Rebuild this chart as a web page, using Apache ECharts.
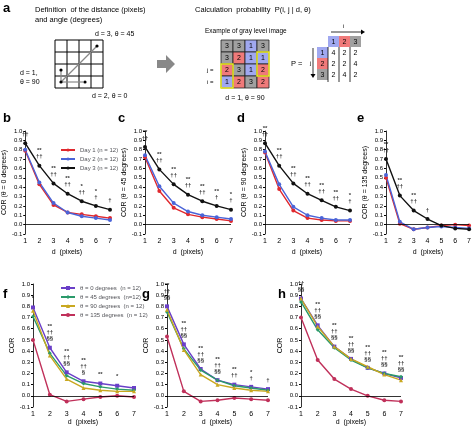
<!DOCTYPE html>
<html><head><meta charset="utf-8">
<script src="https://cdn.jsdelivr.net/npm/echarts@6/dist/echarts.min.js"></script>
<style>html,body{margin:0;background:#fff}#c{width:474px;height:427px}</style>
</head><body><div id="c"></div>
<script>
var dist = ['1', '2', '3', '4', '5', '6', '7'];

// panels b-e: day comparison per angle
var bDay1 = [0.79, 0.43, 0.21, 0.13, 0.11, 0.09, 0.07];
var bDay2 = [0.80, 0.45, 0.23, 0.13, 0.09, 0.07, 0.05];
var bDay3 = [0.87, 0.63, 0.44, 0.33, 0.25, 0.20, 0.16];
var cDay1 = [0.72, 0.36, 0.18, 0.11, 0.08, 0.06, 0.04];
var cDay2 = [0.74, 0.41, 0.23, 0.14, 0.10, 0.08, 0.06];
var cDay3 = [0.83, 0.59, 0.43, 0.32, 0.25, 0.20, 0.16];
var dDay1 = [0.77, 0.38, 0.15, 0.07, 0.05, 0.04, 0.04];
var dDay2 = [0.78, 0.43, 0.19, 0.10, 0.07, 0.05, 0.05];
var dDay3 = [0.87, 0.63, 0.44, 0.33, 0.26, 0.19, 0.15];
var eDay1 = [0.50, 0.01, -0.05, -0.03, -0.01, 0.00, -0.01];
var eDay2 = [0.53, 0.03, -0.05, -0.03, -0.02, -0.03, -0.04];
var eDay3 = [0.70, 0.31, 0.15, 0.06, -0.01, -0.04, -0.05];
var bMarks = ['††', '**\n††', '**\n††', '**\n††', '*\n††', '*\n†', '†'];
var cMarks = ['**\n††', '**\n††', '**\n††', '**\n††', '**\n††', '**\n†', '*\n†'];
var dMarks = ['**\n††', '**\n††', '**\n††', '**\n††', '**\n††', '**\n††', '*\n†'];
var eMarks = ['**\n††', '**\n††', '**\n††', '†', '', '', ''];

// panels f-h: angle comparison per day
var fT0 = [0.79, 0.43, 0.21, 0.13, 0.11, 0.09, 0.07];
var fT45 = [0.71, 0.38, 0.18, 0.11, 0.08, 0.06, 0.05];
var fT90 = [0.76, 0.36, 0.15, 0.07, 0.05, 0.04, 0.04];
var fT135 = [0.50, 0.01, -0.05, -0.03, -0.01, 0.00, -0.01];
var gT0 = [0.80, 0.46, 0.24, 0.14, 0.10, 0.08, 0.06];
var gT45 = [0.75, 0.42, 0.23, 0.14, 0.09, 0.07, 0.05];
var gT90 = [0.77, 0.41, 0.19, 0.10, 0.07, 0.05, 0.04];
var gT135 = [0.53, 0.04, -0.05, -0.04, -0.02, -0.03, -0.04];
var hT0 = [0.87, 0.63, 0.44, 0.33, 0.25, 0.20, 0.16];
var hT45 = [0.84, 0.59, 0.43, 0.32, 0.25, 0.20, 0.17];
var hT90 = [0.87, 0.62, 0.44, 0.33, 0.26, 0.19, 0.14];
var hT135 = [0.70, 0.32, 0.15, 0.06, 0.00, -0.04, -0.05];
var fMarks = ['*', '**\n††\n§§', '**\n††\n§§', '**\n††\n§', '**', '*', ''];
var gMarks = ['**\n††\n§§', '**\n††\n§§', '**\n††\n§§', '**\n††\n§§', '**\n††', '*\n†', '†'];
var hMarks = ['††\n§§', '**\n††\n§§', '**\n††\n§§', '**\n††\n§§', '**\n††\n§§', '**\n††\n§§', '**\n††\n§§'];

var chart = echarts.init(document.getElementById('c'));
var grids = [], xAxes = [], yAxes = [], series = [], graphics = [];
var F = 'Liberation Sans, Arial, sans-serif';

function panel(i, left, right, top, bottom, ytitle, lines, marks, markBase) {
	grids.push({left: left, width: right - left, top: top, height: bottom - top});
	xAxes.push({type: 'category', data: dist, gridIndex: i, boundaryGap: false,
		axisLine: {show: false}, axisTick: {show: false},
		axisLabel: {fontSize: 7, color: '#000', fontFamily: F, margin: 4}});
	yAxes.push({type: 'value', gridIndex: i, min: -0.1, max: 1.0, interval: 0.1,
		axisLine: {show: true, lineStyle: {color: '#000', width: 0.8}},
		axisTick: {show: true, length: 2}, splitLine: {show: false},
		axisLabel: {fontSize: 6, color: '#000', fontFamily: F, margin: 3,
			formatter: function(v) { return v.toFixed(1); }},
		name: ytitle, nameLocation: 'middle', nameGap: 15, nameRotate: 90,
		nameTextStyle: {fontSize: 7, color: '#000', fontFamily: F}});
	lines.forEach(function(l) {
		series.push({type: 'line', name: l.name, xAxisIndex: i, yAxisIndex: i, data: l.data,
			symbol: l.symbol || 'circle', symbolSize: 4, itemStyle: {color: l.color},
			lineStyle: {color: l.color, width: 1.4}, silent: true, animation: false,
			markLine: l.zero ? {silent: true, symbol: 'none', label: {show: false},
				lineStyle: {color: '#000', width: 0.8, type: 'solid'}, data: [{yAxis: 0}]} : undefined});
	});
	series.push({type: 'scatter', xAxisIndex: i, yAxisIndex: i, symbolSize: 0, data: markBase,
		silent: true, animation: false,
		label: {show: true, position: 'top', distance: 6, fontSize: 6, lineHeight: 6, color: '#000',
			fontWeight: 'bold', fontFamily: F,
			formatter: function(p) { return marks[p.dataIndex]; }}});
}

var RED = '#e0282e', BLUE = '#4a64d8', BLK = '#111';
function days(a, b, c) {
	return [{name: 'Day 1 (n = 12)', data: a, color: RED, zero: true},
		{name: 'Day 2 (n = 12)', data: b, color: BLUE},
		{name: 'Day 3 (n = 12)', data: c, color: BLK}];
}
var PUR = '#6a3fc8', GRN = '#2a9a6a', YEL = '#c9a820', CRI = '#c0305a';
function angles(a, b, c, d) {
	return [{name: 'θ = 0 degrees  (n = 12)', data: a, color: PUR, symbol: 'rect', zero: true},
		{name: 'θ = 45 degrees  (n=12)', data: b, color: GRN, symbol: 'diamond'},
		{name: 'θ = 90 degrees  (n = 12)', data: c, color: YEL, symbol: 'triangle'},
		{name: 'θ = 135 degrees  (n = 12)', data: d, color: CRI, symbol: 'circle'}];
}
panel(0, 25, 110, 131, 234, 'COR (θ = 0 degrees)', days(bDay1, bDay2, bDay3), bMarks, bDay3);
panel(1, 145, 231, 131, 234, 'COR (θ = 45 degrees)', days(cDay1, cDay2, cDay3), cMarks, cDay3);
panel(2, 265, 350, 131, 234, 'COR (θ = 90 degrees)', days(dDay1, dDay2, dDay3), dMarks, dDay3);
panel(3, 386, 470, 131, 234, 'COR (θ = 135 degrees)', days(eDay1, eDay2, eDay3), eMarks, eDay3);
panel(4, 33, 134, 284, 407, 'COR', angles(fT0, fT45, fT90, fT135), fMarks, fT0);
panel(5, 167, 268, 284, 407, 'COR', angles(gT0, gT45, gT90, gT135), gMarks, gT0);
panel(6, 301, 401, 284, 407, 'COR', angles(hT0, hT45, hT90, hT135), hMarks, hT0);

// x axis titles
[[67, 252], [188, 252], [307, 252], [428, 252], [83, 422], [217, 422], [351, 422]].forEach(function(p) {
	graphics.push({type: 'text', x: p[0], y: p[1], style: {text: 'd  (pixels)', fontSize: 7, fontFamily: F,
		fill: '#000', align: 'center', verticalAlign: 'middle'}});
});
// panel letters
[['a', 3, 2], ['b', 3, 112], ['c', 118, 112], ['d', 237, 112], ['e', 357, 112],
	['f', 3, 288], ['g', 142, 288], ['h', 278, 288]].forEach(function(p) {
	graphics.push({type: 'text', x: p[1], y: p[2], style: {text: p[0], fontSize: 13, fontWeight: 'bold',
		fontFamily: F, fill: '#000'}});
});

// panel a: distance/angle sketch
var T = function(t, x, y, s, al) {
	graphics.push({type: 'text', x: x, y: y, style: {text: t, fontSize: s || 7, fontFamily: F, fill: '#000',
		align: al || 'left'}});
};
T('Definition  of the distance (pixels)', 35, 6, 7.5);
T('and angle (degrees)', 35, 16, 7.5);
T('Calculation  probability  P(i, j | d, θ)', 195, 6, 7.5);
for (var k = 0; k <= 4; k++) {
	graphics.push({type: 'line', shape: {x1: 55 + k * 12, y1: 40, x2: 55 + k * 12, y2: 88}, style: {stroke: '#000', lineWidth: 1}});
	graphics.push({type: 'line', shape: {x1: 55, y1: 40 + k * 12, x2: 103, y2: 40 + k * 12}, style: {stroke: '#000', lineWidth: 1}});
}
[[61, 82, 97, 46], [61, 82, 83, 82], [61, 82, 61, 70]].forEach(function(a) {
	graphics.push({type: 'line', shape: {x1: a[0], y1: a[1], x2: a[2], y2: a[3]}, style: {stroke: '#888', lineWidth: 1.2}});
});
[[61, 82], [97, 46], [85, 82], [61, 70]].forEach(function(p) {
	graphics.push({type: 'circle', shape: {cx: p[0], cy: p[1], r: 1.6}, style: {fill: '#000'}});
});
T('d = 3, θ = 45', 95, 31);
T('d = 1,', 20, 70);
T('θ = 90', 20, 79);
T('d = 2, θ = 0', 92, 93);
graphics.push({type: 'polygon', shape: {points: [[157, 60], [166, 60], [166, 55], [175, 64], [166, 73], [166, 68], [157, 68]]}, style: {fill: '#888'}});

// gray level image
var img = [[3, 3, 1, 3], [3, 2, 1, 1], [2, 3, 1, 2], [1, 2, 3, 2]];
var colr = {1: '#a0a8f0', 2: '#f07a7a', 3: '#a0a0a0'};
T('Example of gray level image', 205, 28, 6.5);
img.forEach(function(row, r) {
	row.forEach(function(v, c) {
		graphics.push({type: 'rect', shape: {x: 221 + c * 12, y: 40 + r * 12, width: 12, height: 12},
			style: {fill: colr[v], stroke: '#222', lineWidth: 0.8}});
		T(String(v), 227 + c * 12, 43 + r * 12, 7, 'center');
	});
});
graphics.push({type: 'rect', shape: {x: 221, y: 64, width: 12, height: 24}, style: {fill: 'none', stroke: '#f0f020', lineWidth: 1.5}});
graphics.push({type: 'rect', shape: {x: 257, y: 52, width: 12, height: 24}, style: {fill: 'none', stroke: '#f0f020', lineWidth: 1.5}});
T('j =', 207, 67, 6);
T('i =', 207, 79, 6);
T('d = 1, θ = 90', 245, 95, 7, 'center');

// P matrix
var pm = [[4, 2, 2], [2, 2, 4], [2, 4, 2]];
T('P =', 291, 60, 7.5);
T('j', 310, 60, 6);
T('i', 343, 23, 6);
graphics.push({type: 'line', shape: {x1: 331, y1: 32, x2: 361, y2: 32}, style: {stroke: '#000', lineWidth: 0.8}});
graphics.push({type: 'polygon', shape: {points: [[361, 29.5], [365, 32], [361, 34.5]]}, style: {fill: '#000'}});
graphics.push({type: 'line', shape: {x1: 313, y1: 48, x2: 313, y2: 74}, style: {stroke: '#000', lineWidth: 0.8}});
graphics.push({type: 'polygon', shape: {points: [[310.5, 74], [313, 78], [315.5, 74]]}, style: {fill: '#000'}});
for (var h = 0; h < 3; h++) {
	graphics.push({type: 'rect', shape: {x: 328 + h * 11, y: 36, width: 11, height: 11}, style: {fill: colr[h + 1]}});
	T(String(h + 1), 333.5 + h * 11, 38.5, 7, 'center');
	graphics.push({type: 'rect', shape: {x: 317, y: 47 + h * 11, width: 11, height: 11}, style: {fill: colr[h + 1]}});
	T(String(h + 1), 322.5, 49.5 + h * 11, 7, 'center');
	pm[h].forEach(function(v, c) { T(String(v), 333.5 + c * 11, 49.5 + h * 11, 7, 'center'); });
}
graphics.push({type: 'line', shape: {x1: 328, y1: 47, x2: 328, y2: 82}, style: {stroke: '#000', lineWidth: 0.8}});
graphics.push({type: 'line', shape: {x1: 339, y1: 47, x2: 339, y2: 82}, style: {stroke: '#000', lineWidth: 0.8}});
graphics.push({type: 'line', shape: {x1: 350, y1: 47, x2: 350, y2: 82}, style: {stroke: '#000', lineWidth: 0.8}});

chart.setOption({
	animation: false,
	grid: grids, xAxis: xAxes, yAxis: yAxes, series: series, graphic: graphics,
	legend: [
		{data: ['Day 1 (n = 12)', 'Day 2 (n = 12)', 'Day 3 (n = 12)'], orient: 'vertical', left: 55, top: 142,
			itemWidth: 14, itemHeight: 4, itemGap: 3, textStyle: {fontSize: 6, fontFamily: F}},
		{data: ['θ = 0 degrees  (n = 12)', 'θ = 45 degrees  (n=12)', 'θ = 90 degrees  (n = 12)', 'θ = 135 degrees  (n = 12)'],
			orient: 'vertical', left: 55, top: 280, itemWidth: 14, itemHeight: 5, itemGap: 3,
			textStyle: {fontSize: 6, fontFamily: F}}
	]
});
</script></body></html>
